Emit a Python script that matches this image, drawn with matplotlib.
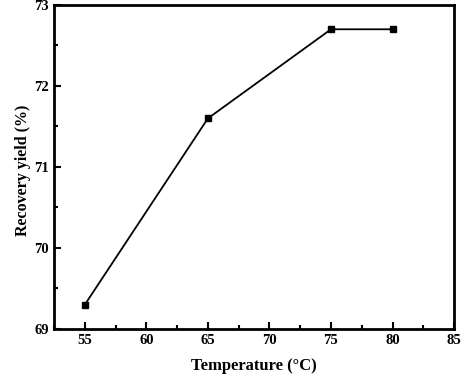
import matplotlib
matplotlib.use("Agg")
import matplotlib.pyplot as plt
from matplotlib.ticker import MultipleLocator

temperature = [55, 65, 75, 80]
recovery_yield = [69.3, 71.6, 72.7, 72.7]

plt.rcParams['font.family'] = ['Liberation Serif', 'DejaVu Serif']
plt.rcParams['font.weight'] = 'bold'

fig = plt.figure(figsize=(4.74, 3.83), dpi=100)
ax = fig.add_axes([0.114, 0.141, 0.844, 0.846])
ax.plot(temperature, recovery_yield, color='black', lw=1.3, marker='s', ms=5)
ax.set_xlim(52.5, 85)
ax.set_ylim(69, 73)
ax.xaxis.set_major_locator(MultipleLocator(5))
ax.xaxis.set_minor_locator(MultipleLocator(2.5))
ax.yaxis.set_major_locator(MultipleLocator(1))
ax.yaxis.set_minor_locator(MultipleLocator(0.5))
ax.tick_params(which='both', direction='in', top=False, right=False, labelsize=10.5)
ax.tick_params(which='major', length=5, width=1.5)
ax.tick_params(which='minor', length=3, width=1.5)
for s in ax.spines.values():
    s.set_linewidth(2)
ax.set_xlabel('Temperature (°C)', fontsize=12, fontweight='bold', labelpad=8)
ax.set_ylabel('Recovery yield (%)', fontsize=11.5, fontweight='bold')
ax.yaxis.set_label_coords(-0.057, 0.49)
fig.savefig('out.png', dpi=100)
